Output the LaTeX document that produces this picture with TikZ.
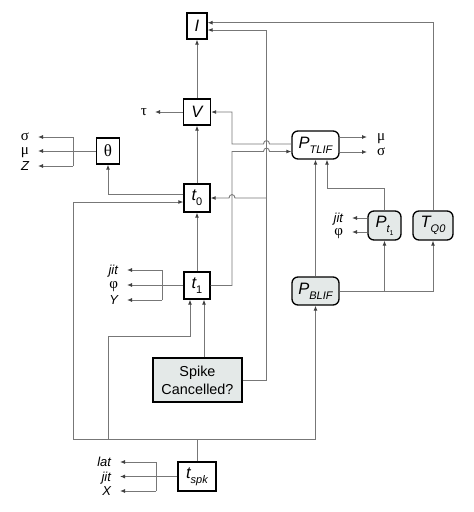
\documentclass[tikz,border=0pt]{standalone}
\usepackage{fontspec}
\setmainfont{Liberation Sans}
\newfontfamily\grk{Liberation Serif}
\usetikzlibrary{arrows.meta,calc}
\definecolor{boxgray}{HTML}{E4E9E8}
\definecolor{linegray}{HTML}{777777}
\newcommand\sbs[1]{\raisebox{-0.3em}{\fontsize{11}{11}\selectfont #1}}
\newcommand\ssbs[1]{\raisebox{-0.25em}{\fontsize{7}{7}\selectfont #1}}
\begin{document}
\begin{tikzpicture}[x=1pt,y=-1pt,
  box/.style={draw=black,line width=1.3pt,inner sep=0pt,font=\fontsize{16.5}{16.5}\selectfont},
  rbox/.style={box,rounded corners=6pt},
  gbox/.style={fill=boxgray},
  conn/.style={draw=linegray,line width=0.9pt},
  arr/.style={conn,-{Latex[length=5pt,width=4pt,color=black!75]}},
  lbl/.style={inner xsep=9pt,inner ysep=0pt,outer sep=0pt,text height=9pt,text depth=0pt,font=\fontsize{13}{13}\selectfont},
  glbl/.style={lbl,text height=7pt,font=\fontsize{15}{15}\selectfont\grk}
]
\useasboundingbox[fill=white] (0,0) rectangle (474,512);

% boxes
\node[box,minimum width=20pt,minimum height=26pt] (I) at (197,26) {\itshape I};
\node[box,minimum width=27pt,minimum height=26pt] (V) at (197,112) {\itshape V};
\node[box,minimum width=23pt,minimum height=26pt,font=\fontsize{17}{17}\selectfont\grk] (th) at (108,151) {θ};
\node[box,minimum width=26pt,minimum height=28pt] (t0) at (197,198) {\itshape t\sbs{\upshape 0}};
\node[box,minimum width=26pt,minimum height=27pt] (t1) at (197,285.5) {\itshape t\sbs{\upshape 1}};
\node[box,gbox,minimum width=89pt,minimum height=44pt,align=center,font=\fontsize{14.4}{18}\selectfont] (SC) at (197.5,380) {Spike\\Cancelled?};
\node[box,minimum width=38pt,minimum height=29pt] (ts) at (197,476.5) {\itshape t\sbs{spk}};
\node[rbox,fill=white,minimum width=47pt,minimum height=28pt] (PT) at (315.5,145) {\itshape P\sbs{TLIF}};
\node[rbox,gbox,minimum width=33pt,minimum height=29pt] (Pt1) at (384.5,225.5) {\itshape P\sbs{t\ssbs{\upshape 1}}};
\node[rbox,gbox,minimum width=40pt,minimum height=29pt] (TQ) at (433,225.5) {\itshape T\sbs{Q0}};
\node[rbox,gbox,minimum width=47pt,minimum height=28pt] (PB) at (315.5,291) {\itshape P\sbs{BLIF}};

% output labels
\node[glbl,anchor=east] (sg1) at (38,137) {σ};
\node[glbl,anchor=east] (mu1) at (38,151) {μ};
\node[lbl,anchor=east] (Z1) at (38,166) {\itshape Z};
\node[glbl,anchor=east,inner xsep=8pt] (tau) at (155,112) {τ};
\node[lbl,anchor=east] (jit1) at (127,270) {\itshape jit};
\node[glbl,anchor=east] (phi1) at (127,285) {φ};
\node[lbl,anchor=east] (Y1) at (127,300) {\itshape Y};
\node[lbl,anchor=east] (lat2) at (120,462) {\itshape lat};
\node[lbl,anchor=east] (jit2) at (120,476.5) {\itshape jit};
\node[lbl,anchor=east] (X2) at (120,491) {\itshape X};
\node[lbl,anchor=east] (jit3) at (352,218) {\itshape jit};
\node[glbl,anchor=east] (phi3) at (352,232) {φ};
\node[glbl,anchor=west,inner xsep=10pt] (mu2) at (367,137) {μ};
\node[glbl,anchor=west,inner xsep=10pt] (sg2) at (367,152) {σ};

% junction coordinates
\coordinate (xR) at (266.5,0);
\coordinate (xM) at (232,0);
\coordinate (bL) at (73,439);
\coordinate (bM) at (108,439);
\coordinate (bT) at (197,439);
\coordinate (bR) at (315.5,439);

% main vertical chain
\draw[arr] (V) -- (I);
\draw[arr] (t0) -- (V);
\draw[arr] (t1) -- (t0);

% T_Q0 -> I
\draw[arr] (TQ.north) |- ($(I.east)+(0,-3.3)$);
% Spike cancelled -> I and -> t0
\draw[arr] (SC.east) -| (xR |- 0,30) -- ($(I.east)+(0,4)$);
\draw[arr] (xR |- t0.east) -- (235,198) .. controls (235,193.5) and (229,193.5) .. (229,198) -- (t0.east);
% P_TLIF -> V
\draw[arr] ($(PT.west)+(0,-1)$) -- (269.5,144) .. controls (269.5,139.5) and (263.5,139.5) .. (263.5,144) -- (232,144) |- (V.east);
% t1 -> P_TLIF
\draw[arr] (t1.east) -| (232,151.5) -- (263.5,151.5) .. controls (263.5,147) and (269.5,147) .. (269.5,151.5) -- ($(PT.west)+(0,6.5)$);

% t0 -> theta
\draw[arr] ($(t0.west)+(0,-4)$) -| (th.south);
% bus -> t0
\draw[arr] (bL) |- ($(t0.west)+(0,4)$);
% theta outputs
\draw[conn] (th.west) -- (73,151);
\draw[conn] (73,137) -- (73,166);
\draw[arr] (73,137) -- (sg1.east);
\draw[arr] (73,151) -- (mu1.east);
\draw[arr] (73,166) -- (Z1.east);
% V -> tau
\draw[arr] (V.west) -- (tau.east);
% t1 outputs
\draw[conn] (t1.west) -- (162,285.5);
\draw[conn] (162,270) -- (162,300);
\draw[arr] (162,270) -- (jit1.east);
\draw[arr] (162,285) -- (phi1.east);
\draw[arr] (162,300) -- (Y1.east);
% inputs of t1
\draw[arr] (bM) |- (190,336) -- ($(t1.south)+(-7,0)$);
\draw[arr] ($(SC.north)+(6.5,0)$) -- ($(t1.south)+(7,0)$);
% bus
\draw[conn] (bL) -- (bR);
\draw[conn] (ts.north) -- (bT);
\draw[arr] (bR) -- (PB.south);
% t_spk outputs
\draw[conn] (ts.west) -- (156,476.5);
\draw[conn] (156,462) -- (156,491);
\draw[arr] (156,462) -- (lat2.east);
\draw[arr] (156,476.5) -- (jit2.east);
\draw[arr] (156,491) -- (X2.east);
% P_BLIF connections
\draw[arr] (PB.north) -- (PT.south);
\draw[arr] (PB.east) -| (TQ.south);
\draw[arr] (Pt1.south |- PB.east) -- (Pt1.south);
\draw[arr] (Pt1.north) |- (327,188) -- ($(PT.south)+(11.5,0)$);
% P_t1 outputs
\draw[arr] ($(Pt1.west)+(0,-7.5)$) -- (jit3.east);
\draw[arr] ($(Pt1.west)+(0,6.5)$) -- (phi3.east);
% P_TLIF outputs
\draw[arr] ($(PT.east)+(0,-8)$) -- (mu2.west);
\draw[arr] ($(PT.east)+(0,7)$) -- (sg2.west);
\end{tikzpicture}
\end{document}
